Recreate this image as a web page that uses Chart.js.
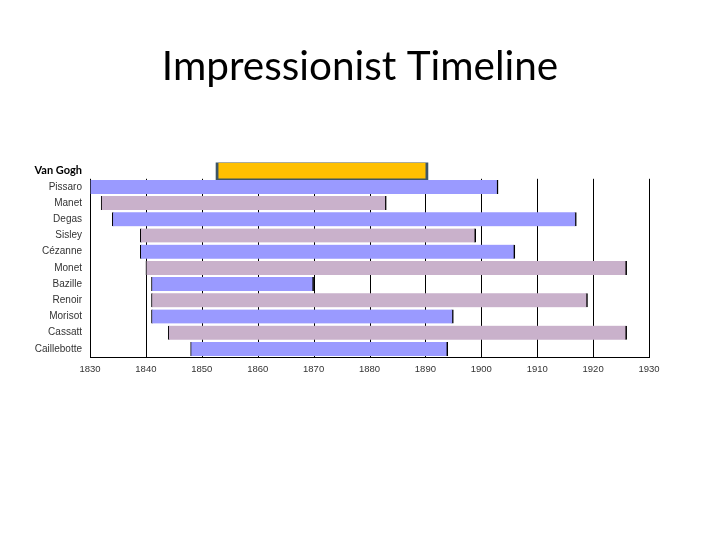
<!DOCTYPE html>
<html>
<head>
<meta charset="utf-8">
<script src="https://cdn.jsdelivr.net/npm/chart.js@4"></script>
<style>
  html, body { margin: 0; padding: 0; background: #fff; }
  #wrap { width: 720px; height: 540px; }
</style>
</head>
<body>
<div id="wrap"><canvas id="timeline" width="720" height="540"></canvas></div>
<script>
const painters = ["Van Gogh", "Pissaro", "Manet", "Degas", "Sisley", "Cézanne", "Monet", "Bazille", "Renoir", "Morisot", "Cassatt", "Caillebotte"];
const born = [null, 1830, 1832, 1834, 1839, 1839, 1840, 1841, 1841, 1841, 1844, 1848];
const died = [null, 1903, 1883, 1917, 1899, 1906, 1926, 1870, 1919, 1895, 1926, 1894];
const vanGogh = [1852.5, 1890.5];
const years = [1830, 1840, 1850, 1860, 1870, 1880, 1890, 1900, 1910, 1920, 1930];

const BLUE = "#9a9aff";
const MAUVE = "#c9b1cb";

const lifeSpans = born.map((b, i) => b === null ? null : [b, died[i]]);
const vgRow = painters.map((p, i) => i === 0 ? vanGogh : null);

// vertical grid lines only behind the painter rows (not the Van Gogh row)
const gridPlugin = {
  id: "timelineGrid",
  beforeDatasetsDraw(chart) {
    const x = chart.scales.x, y = chart.scales.y;
    const rowH = y.getPixelForValue(2) - y.getPixelForValue(1);
    const top = y.getPixelForValue(1) - rowH / 2;
    const ctx = chart.ctx;
    ctx.save();
    ctx.strokeStyle = "#000";
    ctx.lineWidth = 1;
    years.forEach(v => {
      const px = Math.round(x.getPixelForValue(v)) + 0.5;
      ctx.beginPath();
      ctx.moveTo(px, top);
      ctx.lineTo(px, chart.chartArea.bottom);
      ctx.stroke();
    });
    ctx.restore();
  }
};

new Chart(document.getElementById("timeline"), {
  type: "bar",
  data: {
    labels: painters,
    datasets: [{
      data: lifeSpans,
      backgroundColor: painters.map((p, i) => i % 2 === 1 ? BLUE : MAUVE),
      borderColor: "#000",
      borderWidth: { left: 1, right: 1.5, top: 0, bottom: 0 },
      borderSkipped: false,
      barThickness: 14
    }, {
      data: vgRow,
      backgroundColor: "#ffc000",
      borderColor: "#3d5566",
      borderWidth: 3,
      borderSkipped: false,
      barThickness: 21
    }]
  },
  plugins: [gridPlugin],
  options: {
    indexAxis: "y",
    responsive: false,
    animation: false,
    grouped: false,
    layout: { padding: 0 },
    plugins: {
      legend: { display: false },
      tooltip: { enabled: false },
      title: {
        display: true,
        text: "Impressionist Timeline",
        color: "#000",
        font: { family: "Lato", size: 40.5, weight: "normal", lineHeight: 1.2 },
        padding: { top: 43, bottom: 71 }
      }
    },
    scales: {
      x: {
        type: "linear",
        min: 1830,
        max: 1930,
        afterBuildTicks(scale) { scale.ticks = years.map(v => ({ value: v })); },
        afterFit(scale) { scale.height = 540 - 357; },
        grid: { display: false, drawTicks: false, tickLength: 0 },
        border: { display: true, color: "#000", width: 1 },
        ticks: {
          padding: 7,
          color: "#333",
          font: { family: "Liberation Sans", size: 9.5 },
          callback: v => String(v)
        }
      },
      y: {
        afterFit(scale) { scale.width = 90; },
        grid: { display: false, drawTicks: false },
        border: { display: false },
        ticks: {
          padding: 8,
          color: ctx => ctx.index === 0 ? "#000" : "#333",
          font: ctx => ctx.index === 0
            ? { family: "Lato", size: 11, weight: "bold" }
            : { family: "Liberation Sans", size: 10 }
        }
      },
      // empty right-hand margin so the plot ends at 1930 like the slide
      yRight: {
        type: "linear",
        position: "right",
        afterFit(scale) { scale.width = 71; },
        grid: { display: false, drawTicks: false },
        border: { display: false },
        ticks: { display: false }
      }
    }
  }
});
</script>
</body>
</html>
